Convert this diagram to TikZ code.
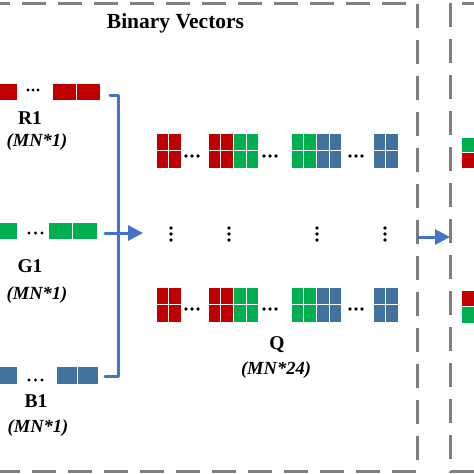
\documentclass[tikz,border=0pt]{standalone}
\usepackage{fontspec}
\setmainfont{Liberation Serif}
\usetikzlibrary{arrows.meta}
\definecolor{cred}{HTML}{C00000}
\definecolor{cgreen}{HTML}{00B050}
\definecolor{cblue}{HTML}{41719C}
\definecolor{lineblue}{HTML}{4472C4}
\definecolor{dashgray}{HTML}{7F7F7F}
\begin{document}
\begin{tikzpicture}[x=1pt,y=-1pt,
 cell/.style={fill=#1,draw=white,line width=1pt},
 dashbox/.style={draw=dashgray,line width=3pt,dash pattern=on 24pt off 12pt},
 conn/.style={draw=lineblue,line width=3pt,line cap=round,line join=round},
 arr/.style={conn,-{Triangle[length=15pt,width=15pt]}},
 lbl/.style={inner sep=0pt,font=\fontsize{19.5}{22}\selectfont\bfseries},
 dimlbl/.style={inner sep=0pt,font=\fontsize{18.5}{22}\selectfont\bfseries\itshape}]
\useasboundingbox (0,0) rectangle (474,474);
\clip (0,0) rectangle (474,474);
\fill[white] (0,0) rectangle (474,474);

% dashed panels
\draw[dashbox] (-40,3) rectangle (417,471);
\draw[dashbox] (450,3) rectangle (540,471);

% title
\node[lbl,font=\fontsize{21.5}{24}\selectfont\bfseries] (title) at (175.5,23) {Binary Vectors};

% left vectors
\path[cell=cred] (-10,83) rectangle (17,100);
\path[cell=cred] (52,83) rectangle (76,100);
\path[cell=cred] (76,83) rectangle (100,100);
\foreach \dx in {28,33,38} \fill (\dx,90) circle (1.6);

\path[cell=cgreen] (-10,222) rectangle (17,239);
\path[cell=cgreen] (48,222) rectangle (72.5,239);
\path[cell=cgreen] (72.5,222) rectangle (97,239);
\foreach \dx in {29,35.5,42} \fill (\dx,233) circle (1.6);

\path[cell=cblue] (-10,366) rectangle (17,384);
\path[cell=cblue] (56,366) rectangle (77,384);
\path[cell=cblue] (77,366) rectangle (98,384);
\foreach \dx in {29,35.5,42} \fill (\dx,380) circle (1.6);

\node[lbl] (r1) at (30,118) {R1};
\node[dimlbl] (r1d) at (37,142) {(MN*1)};
\node[lbl] (g1) at (30,266) {G1};
\node[dimlbl] (g1d) at (37,295) {(MN*1)};
\node[lbl] (b1) at (36,401) {B1};
\node[dimlbl] (b1d) at (38,428) {(MN*1)};

% bracket and arrow
\coordinate (bt) at (110,95);
\coordinate (btc) at (118,95);
\coordinate (bbc) at (118,376);
\coordinate (bb) at (105,376);
\draw[conn] (bt) -- (btc) -- (bbc) -- (bb);
\coordinate (as) at (105,233);
\coordinate (ae) at (143,233);
\draw[arr] (as) -- (ae);

% Q matrix
\foreach \ry in {133,287}{
  \foreach \gx/\cols in {156/{cred,cred},208/{cred,cred,cgreen,cgreen},291/{cgreen,cgreen,cblue,cblue},373/{cblue,cblue}}{
    \foreach \c [count=\i from 0] in \cols{
      \path[cell=\c] (\gx+\i*12.7,\ry) rectangle ++(12.7,17.5);
      \path[cell=\c] (\gx+\i*12.7,\ry+17.5) rectangle ++(12.7,17.5);
    }
  }
}
\foreach \ry in {156,309}{
  \foreach \dx in {192,270,356}{
    \foreach \k in {-6,0,6} \fill (\dx+\k,\ry) circle (1.8);
  }
}
\foreach \dx in {171,229,317,385}{
  \foreach \k in {-6,0,6} \fill (\dx,234+\k) circle (1.9);
}
\node[lbl] (q) at (277,345) {Q};
\node[dimlbl] (qd) at (276,370) {(MN*24)};

% arrow to next panel
\coordinate (ps) at (417,237);
\coordinate (pe) at (450,237);
\draw[arr,line cap=butt] (ps) -- (pe);

% next panel cells
\path[cell=cgreen] (461,137) rectangle (495,152.5);
\path[cell=cred] (461,152.5) rectangle (495,168);
\path[cell=cred] (461,290) rectangle (495,306);
\path[cell=cgreen] (461,306) rectangle (495,323);
\end{tikzpicture}
\end{document}
